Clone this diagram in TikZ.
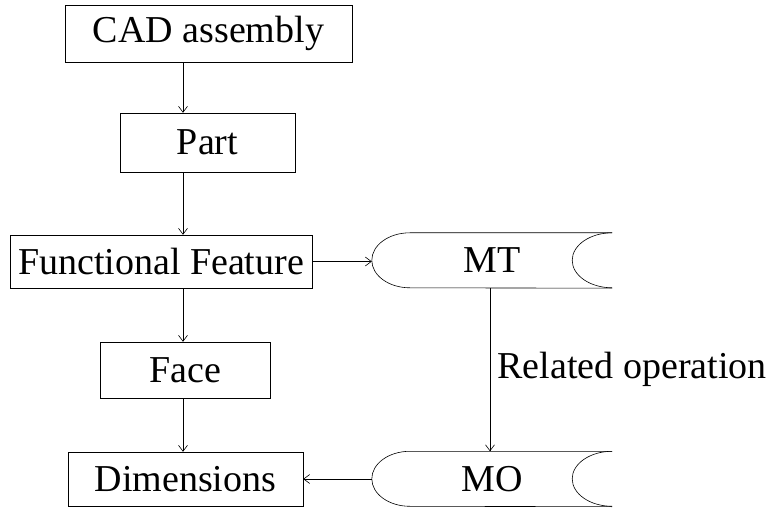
\documentclass[tikz,border=0pt]{standalone}
\usepackage{fontspec}
\setmainfont{Liberation Serif}
\usetikzlibrary{arrows.meta}
\begin{document}
\begin{tikzpicture}[x=1pt,y=-1pt,
  lbl/.style={font=\fontsize{38}{42}\selectfont},
  box/.style={draw, rectangle, inner sep=0pt, lbl},
  store/.style={rectangle, inner sep=0pt, minimum width=240pt, minimum height=55pt, lbl},
  arr/.style={-{Straight Barb[length=6pt,width=9pt]}, line width=0.6pt}]
\useasboundingbox (0,0) rectangle (780,508);
\node (cad)  [box, minimum width=287pt, minimum height=57pt] at (208.5,33.5) {CAD assembly};
\node (part) [box, minimum width=175pt, minimum height=59pt] at (207.5,142.5) {Part};
\node (ff)   [box, minimum width=302pt, minimum height=53pt] at (161,261.5) {Functional Feature};
\node (face) [box, minimum width=170pt, minimum height=56pt] at (185,370) {Face};
\node (dim)  [box, minimum width=235pt, minimum height=54pt] at (185.5,479) {Dimensions};
\node (mt) [store] at (492,260.5) {MT};
\node (mo) [store] at (492,479) {MO};
\foreach \s in {mt,mo}{
  \draw[line width=0.6pt] (\s.north east) -- ([xshift=38pt]\s.north west)
    arc[start angle=90,end angle=270,x radius=38pt,y radius=27.5pt]
    -- (\s.south east);
  \draw[line width=0.6pt] (\s.north east)
    arc[start angle=90,end angle=270,x radius=40pt,y radius=27.5pt];
}
\coordinate (x) at (183,0);
\draw[arr] (cad.south -| x) -- (part.north -| x);
\draw[arr] (part.south -| x) -- (ff.north -| x);
\draw[arr] (ff.south -| x) -- (face.north -| x);
\draw[arr] (face.south -| x) -- (dim.north -| x);
\draw[arr] (ff.east) -- (mt.west |- ff.east);
\draw[arr] ([xshift=-2pt]mt.south) -- node[right, xshift=4pt, lbl] {Related operation} ([xshift=-2pt]mo.north);
\draw[arr] (mo.west) -- (dim.east);
\end{tikzpicture}
\end{document}
